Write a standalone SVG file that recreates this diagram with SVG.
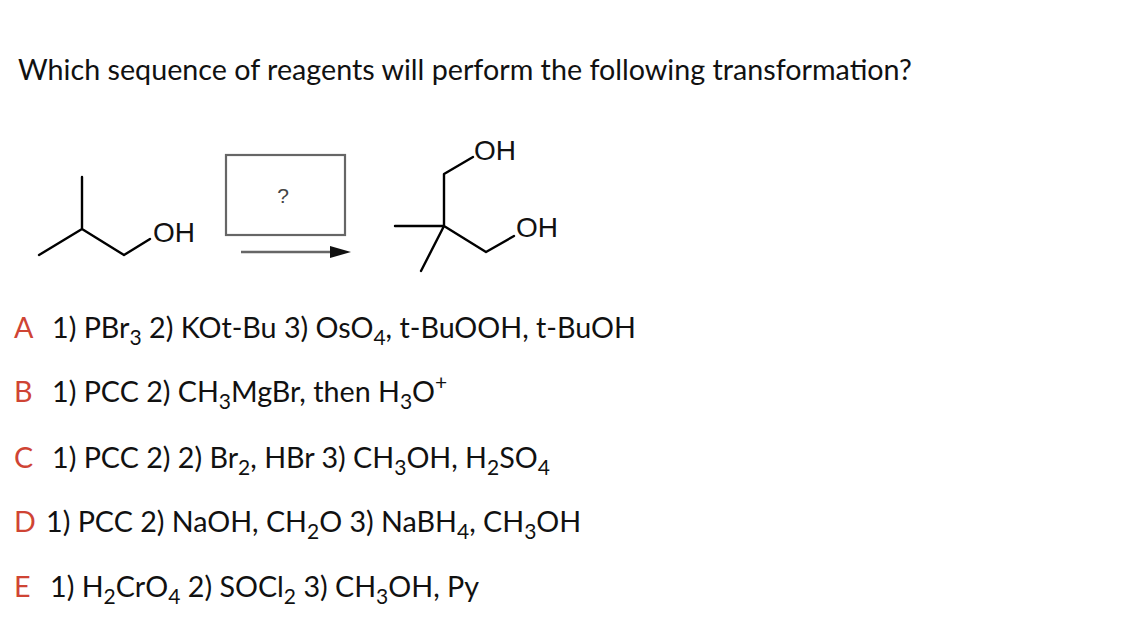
<svg xmlns="http://www.w3.org/2000/svg" width="1132" height="632" viewBox="0 0 1132 632">
<style>
.t{font-family:Lato,"Open Sans","Liberation Sans",sans-serif;font-size:28.7px;fill:#111}
.l{fill:#cf4434}
.s{font-size:21px}
.b{stroke:#000;stroke-width:2.4;fill:none;stroke-linecap:round;stroke-linejoin:round}
.a{font-family:"Liberation Sans",Arial,sans-serif;font-size:28px;fill:#111}
</style>
<rect width="1132" height="632" fill="#fff"/>
<text class="t" x="18" y="80">Which sequence of reagents will perform the following transformation?</text>
<g id="reactant">
<path class="b" d="M39,255 L82,229 L82,177 M82,229 L124,255 L150,239"/>
<text class="a" x="153" y="242">OH</text>
</g>
<g id="reagent-box">
<rect x="226" y="155" width="119" height="80" fill="none" stroke="#666" stroke-width="2.2"/>
<text class="a" x="283" y="203" text-anchor="middle" style="font-size:21px;fill:#444">?</text>
</g>
<g id="connectors">
<path d="M241,252 L332,252" stroke="#666" stroke-width="2.4"/>
<path d="M330,246 L351,252 L330,258 Z" fill="#111"/>
</g>
<g id="product">
<path class="b" d="M395,226 L444,226 L421,271 M444,226 L444,174 L473,157 M444,226 L486,252 L514,236"/>
<text class="a" x="474" y="160">OH</text>
<text class="a" x="516" y="237">OH</text>
</g>
<g id="options">
<text class="t" x="14" y="338"><tspan class="l">A</tspan><tspan x="52">1) PBr</tspan><tspan class="s" dy="7">3</tspan><tspan dy="-7"> 2) KOt-Bu 3) OsO</tspan><tspan class="s" dy="7">4</tspan><tspan dy="-7">, t-BuOOH, t-BuOH</tspan></text>
<text class="t" x="14" y="402"><tspan class="l">B</tspan><tspan x="52">1) PCC 2) CH</tspan><tspan class="s" dy="7">3</tspan><tspan dy="-7">MgBr, then H</tspan><tspan class="s" dy="7">3</tspan><tspan dy="-7">O</tspan><tspan class="s" dy="-12">+</tspan></text>
<text class="t" x="14" y="468"><tspan class="l">C</tspan><tspan x="52">1) PCC 2) 2) Br</tspan><tspan class="s" dy="7">2</tspan><tspan dy="-7">, HBr  3) CH</tspan><tspan class="s" dy="7">3</tspan><tspan dy="-7">OH, H</tspan><tspan class="s" dy="7">2</tspan><tspan dy="-7">SO</tspan><tspan class="s" dy="7">4</tspan></text>
<text class="t" x="14" y="532"><tspan class="l">D</tspan><tspan x="46">1) PCC 2) NaOH, CH</tspan><tspan class="s" dy="7">2</tspan><tspan dy="-7">O 3) NaBH</tspan><tspan class="s" dy="7">4</tspan><tspan dy="-7">, CH</tspan><tspan class="s" dy="7">3</tspan><tspan dy="-7">OH</tspan></text>
<text class="t" x="14" y="597"><tspan class="l">E</tspan><tspan x="50">1) H</tspan><tspan class="s" dy="7">2</tspan><tspan dy="-7">CrO</tspan><tspan class="s" dy="7">4</tspan><tspan dy="-7"> 2) SOCl</tspan><tspan class="s" dy="7">2</tspan><tspan dy="-7"> 3) CH</tspan><tspan class="s" dy="7">3</tspan><tspan dy="-7">OH, Py</tspan></text>
</g>
</svg>
